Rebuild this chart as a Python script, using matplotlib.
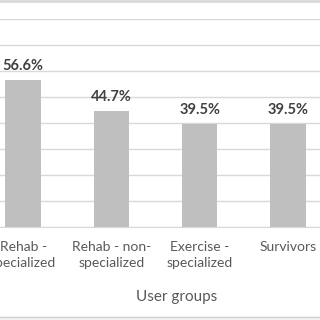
import matplotlib
matplotlib.use("Agg")
import matplotlib.pyplot as plt
from matplotlib.lines import Line2D
from matplotlib.patches import Rectangle

# Data
groups = ["Rehab -\nspecialized", "Rehab - non-\nspecialized", "Exercise -\nspecialized", "Survivors"]
values = [56.6, 44.7, 39.5, 39.5]
labels = ["56.6%", "44.7%", "39.5%", "39.5%"]

plt.rcParams['font.family'] = ['Lato', 'DejaVu Sans']

W = H = 320
fig = plt.figure(figsize=(3.2, 3.2), dpi=100)

# plot area runs past the picture edges (the reference is a crop)
left, right, top, bottom = -21, 332, 19, 226.5
ax = fig.add_axes([left / W, 1 - bottom / H, (right - left) / W, (bottom - top) / H])

x = range(len(groups))
ax.bar(x, values, width=0.4, color="#BFBFBF", zorder=2)
for xi, v, lab in zip(x, values, labels):
    ax.text(xi, v + 2.6, lab, ha="center", va="bottom", fontsize=10.5,
            fontweight="bold", color="#404040")

ax.set_xlim(-0.5, len(groups) - 0.5)
ax.set_ylim(0, 80)
ax.set_yticks(range(0, 81, 10))
ax.yaxis.grid(True, color="#D9D9D9", linewidth=1)
ax.set_axisbelow(True)
ax.tick_params(left=False, bottom=False, labelleft=False)
ax.set_xticks(list(x))
ax.set_xticklabels(groups, fontsize=10, color="#595959", linespacing=1.35)
ax.tick_params(axis="x", pad=7)
for s in ["left", "right", "top"]:
    ax.spines[s].set_visible(False)
ax.spines["bottom"].set_color("#D9D9D9")

fig.text(177 / W, 1 - 297 / H, "User groups", ha="center", va="center",
         fontsize=11, color="#595959")

# chart border lines (top and bottom of the crop)
fig.add_artist(Line2D([0, 1], [1 - 1 / H, 1 - 1 / H], color="#D9D9D9", linewidth=2))
fig.add_artist(Rectangle((0, 0), 1, 3 / H, color="#F2F2F2", transform=fig.transFigure))
fig.add_artist(Line2D([0, 1], [3 / H, 3 / H], color="#D0D0D0", linewidth=1))

fig.savefig("out.png", dpi=100)
